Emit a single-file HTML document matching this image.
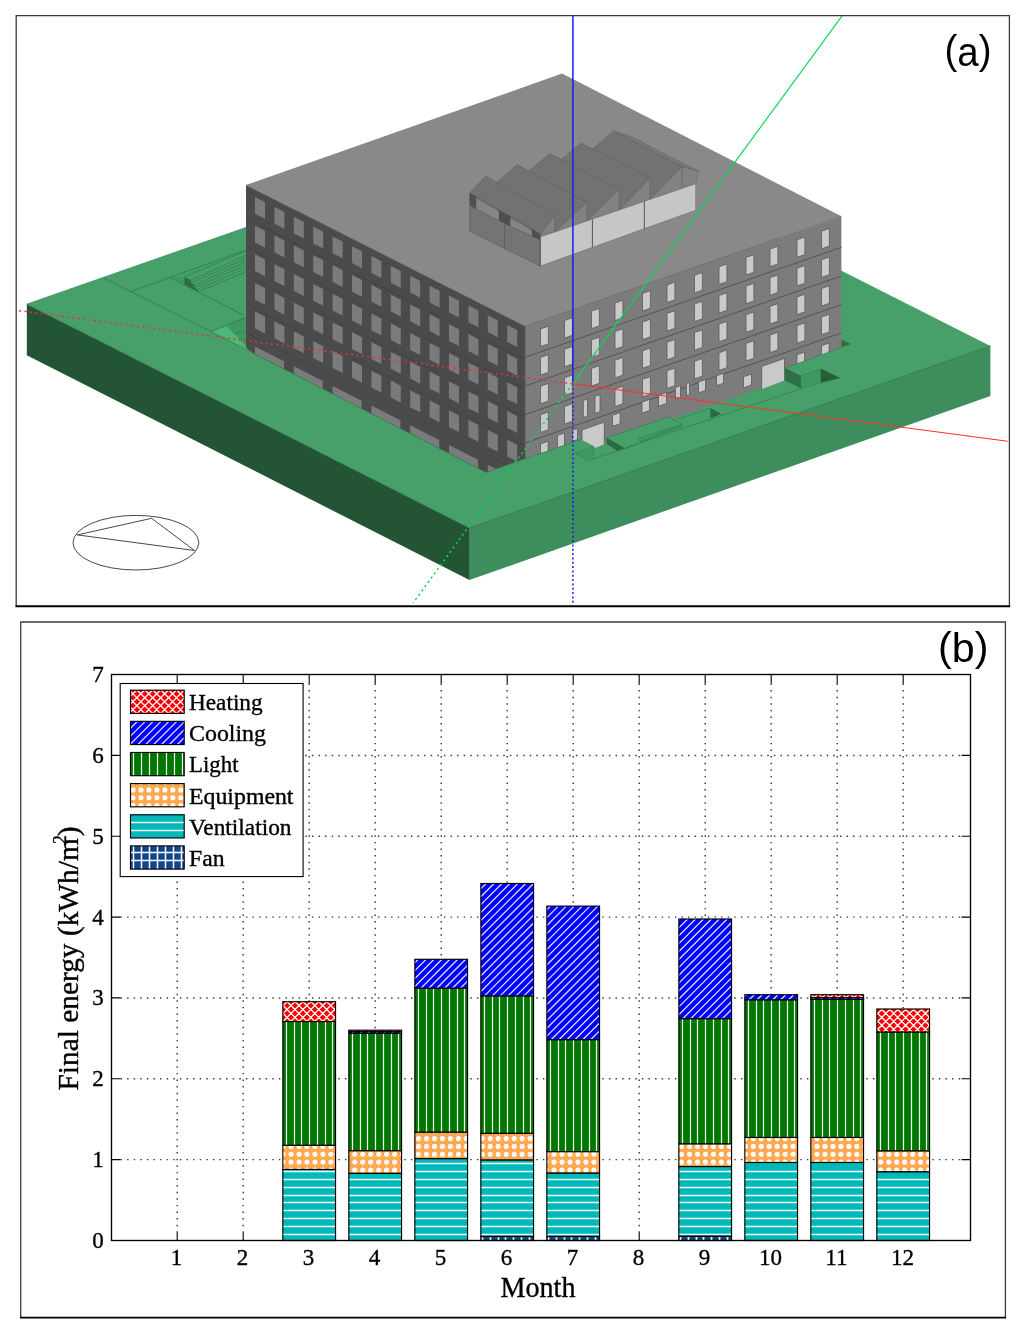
<!DOCTYPE html>
<html lang="en"><head><meta charset="utf-8"><title>Building model and monthly final energy</title>
<style>
html,body{margin:0;padding:0;background:#fff;}
body{width:1024px;height:1333px;overflow:hidden;font-family:"Liberation Serif",serif;}
svg{display:block;position:absolute;left:0;top:0;}
text{font-family:"Liberation Serif",serif;fill:#000;stroke:#000;stroke-width:0.35px;}
text.sans{font-family:"Liberation Sans",sans-serif;stroke:none;}
</style></head><body>
<svg width="1024" height="1333" viewBox="0 0 1024 1333">
<defs>
<clipPath id="cpA"><rect x="17" y="16" width="992" height="590"/></clipPath>
<clipPath id="cpL"><polygon points="246.0,185.0 525.0,326.2 525.0,458.8 486.2,472.5 253.0,353.4 246.0,347.5"/></clipPath>
</defs>
<g clip-path="url(#cpA)">
<polygon points="26.8,304.2 469.5,528.0 469.5,580.0 26.8,355.2" fill="#235434"/>
<polygon points="469.5,528.0 990.4,346.0 990.4,396.0 469.5,580.0" fill="#3d8e5c"/>
<polygon points="26.8,304.2 547.6,122.2 990.4,346.0 469.5,528.0" fill="#47a06a"/>
<line x1="26.8" y1="304.2" x2="469.5" y2="528.0" stroke="#2d6e45" stroke-width="0.7"/>
<line x1="469.5" y1="528.0" x2="990.4" y2="346.0" stroke="#357f52" stroke-width="0.7"/>
<line x1="26.8" y1="304.2" x2="246.0" y2="227.5" stroke="#3a8a59" stroke-width="0.8"/>
<polygon points="184.4,276.9 245.6,251.1 245.6,272.2 197.7,291.7" fill="#46a169"/>
<polygon points="168.8,276.9 184.4,276.9 184.4,284.0" fill="#3f9862"/>
<line x1="184.4" y1="276.9" x2="245.6" y2="251.1" stroke="#2f7a4c" stroke-width="0.7"/>
<line x1="190.9" y1="280.3" x2="245.6" y2="255.8" stroke="#2f7a4c" stroke-width="0.7"/>
<line x1="190.9" y1="283.1" x2="245.6" y2="258.9" stroke="#2f7a4c" stroke-width="0.7"/>
<line x1="194.5" y1="285.0" x2="245.6" y2="262.0" stroke="#2f7a4c" stroke-width="0.7"/>
<line x1="194.5" y1="287.5" x2="245.6" y2="265.2" stroke="#2f7a4c" stroke-width="0.7"/>
<line x1="197.7" y1="289.4" x2="245.6" y2="268.3" stroke="#2f7a4c" stroke-width="0.7"/>
<line x1="197.7" y1="291.7" x2="245.6" y2="272.2" stroke="#2f7a4c" stroke-width="0.7"/>
<polygon points="184.4,276.9 190.9,280.3 190.9,283.1 194.5,285.0 194.5,287.5 197.7,289.4 197.7,291.7 184.4,284.9" fill="#2b6e43"/>
<polygon points="226.5,326.0 245.6,317.5 245.6,347.3 253.0,353.4" fill="#3f9862"/>
<polygon points="211.0,331.5 226.5,326.0 253.0,353.4" fill="#4db878"/>
<line x1="235.2" y1="333.9" x2="245.6" y2="330.0" stroke="#2f7a4c" stroke-width="0.6"/>
<line x1="103.5" y1="278.0" x2="211.0" y2="331.5" stroke="#2f7a4c" stroke-width="0.8"/>
<line x1="131.0" y1="291.5" x2="245.6" y2="250.3" stroke="#2f7a4c" stroke-width="0.8"/>
<line x1="168.8" y1="276.9" x2="243.8" y2="315.2" stroke="#2f7a4c" stroke-width="0.8"/>
<line x1="211.0" y1="331.5" x2="245.6" y2="317.5" stroke="#2f7a4c" stroke-width="0.8"/>
<polygon points="246.0,185.0 525.0,326.2 525.0,458.8 486.2,472.5 253.0,353.4 246.0,347.5" fill="#4b4b4b"/>
<g clip-path="url(#cpL)">
<line x1="246.0" y1="218.1" x2="525.0" y2="359.8" stroke="#444444" stroke-width="1.0"/>
<line x1="246.0" y1="246.7" x2="525.0" y2="388.4" stroke="#444444" stroke-width="1.0"/>
<line x1="246.0" y1="275.3" x2="525.0" y2="417.0" stroke="#444444" stroke-width="1.0"/>
<line x1="246.0" y1="303.9" x2="525.0" y2="445.6" stroke="#444444" stroke-width="1.0"/>
<line x1="246.0" y1="332.5" x2="525.0" y2="474.2" stroke="#444444" stroke-width="1.0"/>
<path d="M255.0,197.0 l10,5.08 v16.8 l-10,-5.08 z M255.0,225.7 l10,5.08 v16.8 l-10,-5.08 z M255.0,254.3 l10,5.08 v16.8 l-10,-5.08 z M255.0,282.9 l10,5.08 v16.8 l-10,-5.08 z M255.0,311.6 l10,5.08 v16.8 l-10,-5.08 z M274.4,206.9 l10,5.08 v16.8 l-10,-5.08 z M274.4,235.5 l10,5.08 v16.8 l-10,-5.08 z M274.4,264.2 l10,5.08 v16.8 l-10,-5.08 z M274.4,292.8 l10,5.08 v16.8 l-10,-5.08 z M274.4,321.5 l10,5.08 v16.8 l-10,-5.08 z M293.8,216.7 l10,5.08 v16.8 l-10,-5.08 z M293.8,245.4 l10,5.08 v16.8 l-10,-5.08 z M293.8,274.0 l10,5.08 v16.8 l-10,-5.08 z M293.8,302.7 l10,5.08 v16.8 l-10,-5.08 z M293.8,331.3 l10,5.08 v16.8 l-10,-5.08 z M313.2,226.6 l10,5.08 v16.8 l-10,-5.08 z M313.2,255.2 l10,5.08 v16.8 l-10,-5.08 z M313.2,283.9 l10,5.08 v16.8 l-10,-5.08 z M313.2,312.5 l10,5.08 v16.8 l-10,-5.08 z M313.2,341.2 l10,5.08 v16.8 l-10,-5.08 z M332.6,236.4 l10,5.08 v16.8 l-10,-5.08 z M332.6,265.1 l10,5.08 v16.8 l-10,-5.08 z M332.6,293.7 l10,5.08 v16.8 l-10,-5.08 z M332.6,322.4 l10,5.08 v16.8 l-10,-5.08 z M332.6,351.0 l10,5.08 v16.8 l-10,-5.08 z M352.0,246.3 l10,5.08 v16.8 l-10,-5.08 z M352.0,274.9 l10,5.08 v16.8 l-10,-5.08 z M352.0,303.6 l10,5.08 v16.8 l-10,-5.08 z M352.0,332.2 l10,5.08 v16.8 l-10,-5.08 z M352.0,360.9 l10,5.08 v16.8 l-10,-5.08 z M371.4,256.1 l10,5.08 v16.8 l-10,-5.08 z M371.4,284.8 l10,5.08 v16.8 l-10,-5.08 z M371.4,313.4 l10,5.08 v16.8 l-10,-5.08 z M371.4,342.1 l10,5.08 v16.8 l-10,-5.08 z M371.4,370.7 l10,5.08 v16.8 l-10,-5.08 z M390.8,266.0 l10,5.08 v16.8 l-10,-5.08 z M390.8,294.6 l10,5.08 v16.8 l-10,-5.08 z M390.8,323.3 l10,5.08 v16.8 l-10,-5.08 z M390.8,351.9 l10,5.08 v16.8 l-10,-5.08 z M390.8,380.6 l10,5.08 v16.8 l-10,-5.08 z M410.2,275.8 l10,5.08 v16.8 l-10,-5.08 z M410.2,304.5 l10,5.08 v16.8 l-10,-5.08 z M410.2,333.1 l10,5.08 v16.8 l-10,-5.08 z M410.2,361.8 l10,5.08 v16.8 l-10,-5.08 z M410.2,390.4 l10,5.08 v16.8 l-10,-5.08 z M429.6,285.7 l10,5.08 v16.8 l-10,-5.08 z M429.6,314.3 l10,5.08 v16.8 l-10,-5.08 z M429.6,343.0 l10,5.08 v16.8 l-10,-5.08 z M429.6,371.6 l10,5.08 v16.8 l-10,-5.08 z M429.6,400.3 l10,5.08 v16.8 l-10,-5.08 z M449.0,295.6 l10,5.08 v16.8 l-10,-5.08 z M449.0,324.2 l10,5.08 v16.8 l-10,-5.08 z M449.0,352.9 l10,5.08 v16.8 l-10,-5.08 z M449.0,381.5 l10,5.08 v16.8 l-10,-5.08 z M449.0,410.2 l10,5.08 v16.8 l-10,-5.08 z M468.4,305.4 l10,5.08 v16.8 l-10,-5.08 z M468.4,334.1 l10,5.08 v16.8 l-10,-5.08 z M468.4,362.7 l10,5.08 v16.8 l-10,-5.08 z M468.4,391.4 l10,5.08 v16.8 l-10,-5.08 z M468.4,420.0 l10,5.08 v16.8 l-10,-5.08 z M487.8,315.3 l10,5.08 v16.8 l-10,-5.08 z M487.8,343.9 l10,5.08 v16.8 l-10,-5.08 z M487.8,372.6 l10,5.08 v16.8 l-10,-5.08 z M487.8,401.2 l10,5.08 v16.8 l-10,-5.08 z M487.8,429.9 l10,5.08 v16.8 l-10,-5.08 z M507.2,325.1 l10,5.08 v16.8 l-10,-5.08 z M507.2,353.8 l10,5.08 v16.8 l-10,-5.08 z M507.2,382.4 l10,5.08 v16.8 l-10,-5.08 z M507.2,411.1 l10,5.08 v16.8 l-10,-5.08 z M507.2,439.7 l10,5.08 v16.8 l-10,-5.08 z M255.0,346.5 l29,14.73 v26 l-29,-14.73 z M293.8,366.2 l29,14.73 v26 l-29,-14.73 z M332.6,385.9 l29,14.73 v26 l-29,-14.73 z M371.4,405.6 l29,14.73 v26 l-29,-14.73 z M410.2,425.3 l29,14.73 v26 l-29,-14.73 z M449.0,445.1 l29,14.73 v26 l-29,-14.73 z M487.8,464.8 l29,14.73 v26 l-29,-14.73 z" fill="#7b7b7b"/>
</g>
<polygon points="525.0,326.2 841.4,216.2 841.4,360.0 525.0,470.0" fill="#7c7c7c"/>
<line x1="525.0" y1="357.3" x2="841.4" y2="247.3" stroke="#4a4a4a" stroke-width="0.8"/>
<line x1="525.0" y1="386.0" x2="841.4" y2="276.0" stroke="#4a4a4a" stroke-width="0.8"/>
<line x1="525.0" y1="414.7" x2="841.4" y2="304.7" stroke="#4a4a4a" stroke-width="0.8"/>
<line x1="525.0" y1="443.0" x2="841.4" y2="333.0" stroke="#4a4a4a" stroke-width="0.8"/>
<path d="M540.5,328.9 l7.9,-2.76 v17.6 l-7.9,2.76 z M540.5,357.5 l7.9,-2.76 v17.6 l-7.9,2.76 z M540.5,386.2 l7.9,-2.76 v17.6 l-7.9,2.76 z M540.5,414.8 l7.9,-2.76 v17.6 l-7.9,2.76 z M564.5,320.5 l7.9,-2.76 v17.6 l-7.9,2.76 z M564.5,349.2 l7.9,-2.76 v17.6 l-7.9,2.76 z M564.5,377.8 l7.9,-2.76 v17.6 l-7.9,2.76 z M564.5,406.5 l7.9,-2.76 v17.6 l-7.9,2.76 z M591.5,311.1 l7.9,-2.76 v17.6 l-7.9,2.76 z M591.5,339.8 l7.9,-2.76 v17.6 l-7.9,2.76 z M591.5,368.4 l7.9,-2.76 v17.6 l-7.9,2.76 z M615.0,303.0 l7.9,-2.76 v17.6 l-7.9,2.76 z M615.0,331.6 l7.9,-2.76 v17.6 l-7.9,2.76 z M615.0,360.3 l7.9,-2.76 v17.6 l-7.9,2.76 z M615.0,388.9 l7.9,-2.76 v17.6 l-7.9,2.76 z M642.5,293.4 l7.9,-2.76 v17.6 l-7.9,2.76 z M642.5,322.0 l7.9,-2.76 v17.6 l-7.9,2.76 z M642.5,350.7 l7.9,-2.76 v17.6 l-7.9,2.76 z M642.5,379.3 l7.9,-2.76 v17.6 l-7.9,2.76 z M667.0,284.9 l7.9,-2.76 v17.6 l-7.9,2.76 z M667.0,313.5 l7.9,-2.76 v17.6 l-7.9,2.76 z M667.0,342.2 l7.9,-2.76 v17.6 l-7.9,2.76 z M667.0,370.8 l7.9,-2.76 v17.6 l-7.9,2.76 z M694.5,275.3 l7.9,-2.76 v17.6 l-7.9,2.76 z M694.5,304.0 l7.9,-2.76 v17.6 l-7.9,2.76 z M694.5,332.6 l7.9,-2.76 v17.6 l-7.9,2.76 z M694.5,361.3 l7.9,-2.76 v17.6 l-7.9,2.76 z M719.0,266.8 l7.9,-2.76 v17.6 l-7.9,2.76 z M719.0,295.5 l7.9,-2.76 v17.6 l-7.9,2.76 z M719.0,324.1 l7.9,-2.76 v17.6 l-7.9,2.76 z M719.0,352.8 l7.9,-2.76 v17.6 l-7.9,2.76 z M746.0,257.4 l7.9,-2.76 v17.6 l-7.9,2.76 z M746.0,286.1 l7.9,-2.76 v17.6 l-7.9,2.76 z M746.0,314.7 l7.9,-2.76 v17.6 l-7.9,2.76 z M746.0,343.4 l7.9,-2.76 v17.6 l-7.9,2.76 z M770.0,249.1 l7.9,-2.76 v17.6 l-7.9,2.76 z M770.0,277.7 l7.9,-2.76 v17.6 l-7.9,2.76 z M770.0,306.4 l7.9,-2.76 v17.6 l-7.9,2.76 z M770.0,335.0 l7.9,-2.76 v17.6 l-7.9,2.76 z M797.0,239.7 l7.9,-2.76 v17.6 l-7.9,2.76 z M797.0,268.3 l7.9,-2.76 v17.6 l-7.9,2.76 z M797.0,297.0 l7.9,-2.76 v17.6 l-7.9,2.76 z M797.0,325.6 l7.9,-2.76 v17.6 l-7.9,2.76 z M821.5,231.2 l7.9,-2.76 v17.6 l-7.9,2.76 z M821.5,259.8 l7.9,-2.76 v17.6 l-7.9,2.76 z M821.5,288.5 l7.9,-2.76 v17.6 l-7.9,2.76 z M821.5,317.1 l7.9,-2.76 v17.6 l-7.9,2.76 z M540.5,443.9 l7.6,-2.65 v16.0 l-7.6,2.65 z M557.5,435.5 l7.0,-2.44 v12.5 l-7.0,2.44 z M572.5,430.2 l5.0,-1.74 v11.0 l-5.0,1.74 z M582.0,429.9 l22.3,-7.78 v26.0 l-22.3,7.78 z M612.5,415.3 l7.6,-2.65 v11.0 l-7.6,2.65 z M642.0,402.1 l7.6,-2.65 v11.0 l-7.6,2.65 z M583.3,400.5 l4.2,-1.47 v17.0 l-4.2,1.47 z M595.0,396.4 l5.0,-1.74 v17.0 l-5.0,1.74 z M658.5,395.3 l8.0,-2.79 v11.0 l-8.0,2.79 z M675.5,387.4 l5.0,-1.74 v12.0 l-5.0,1.74 z M686.5,383.6 l3.0,-1.05 v12.0 l-3.0,1.05 z M698.5,381.9 l7.0,-2.44 v11.0 l-7.0,2.44 z M716.5,375.7 l7.0,-2.44 v10.0 l-7.0,2.44 z M743.5,376.8 l8.0,-2.79 v11.0 l-8.0,2.79 z M761.7,366.4 l22.8,-7.96 v24.0 l-22.8,7.96 z M797.0,354.7 l7.6,-2.65 v13.0 l-7.6,2.65 z M821.5,345.7 l7.6,-2.65 v12.0 l-7.6,2.65 z" fill="#c9c9c9" stroke="#5a5a5a" stroke-width="0.8"/>
<polygon points="246.0,185.0 562.0,73.6 841.4,216.2 525.0,326.2" fill="#898989"/>
<line x1="246.0" y1="185.0" x2="525.0" y2="326.2" stroke="#6a6a6a" stroke-width="0.6"/>
<line x1="525.0" y1="326.2" x2="841.4" y2="216.2" stroke="#6a6a6a" stroke-width="0.6"/>
<line x1="525.0" y1="326.2" x2="525.0" y2="459.0" stroke="#5a5a5a" stroke-width="0.7"/>
<polygon points="613.5,131.1 629.8,135.8 698.4,171.2 682.0,166.7" fill="#787878" stroke="#606060" stroke-width="0.5"/>
<polygon points="682.0,166.7 698.4,171.2 695.7,184.3 682.0,189.1" fill="#828282" stroke="#606060" stroke-width="0.5"/>
<polygon points="581.0,159.0 613.5,131.1 682.0,166.7 649.8,199.6" fill="#727272" stroke="#5e5e5e" stroke-width="0.5"/>
<polygon points="649.8,199.6 682.0,166.7 682.0,188.6" fill="#828282" stroke="#5e5e5e" stroke-width="0.5"/>
<polygon points="549.7,169.6 581.0,143.0 649.8,178.0 619.0,210.2" fill="#727272" stroke="#5e5e5e" stroke-width="0.5"/>
<polygon points="619.0,210.2 649.8,178.0 649.8,199.6" fill="#828282" stroke="#5e5e5e" stroke-width="0.5"/>
<polygon points="517.2,180.7 549.7,153.5 619.0,189.1 586.8,221.3" fill="#727272" stroke="#5e5e5e" stroke-width="0.5"/>
<polygon points="586.8,221.3 619.0,189.1 619.0,210.2" fill="#828282" stroke="#5e5e5e" stroke-width="0.5"/>
<polygon points="485.6,192.3 517.2,164.6 586.8,202.3 554.7,232.3" fill="#727272" stroke="#5e5e5e" stroke-width="0.5"/>
<polygon points="554.7,232.3 586.8,202.3 586.8,221.3" fill="#828282" stroke="#5e5e5e" stroke-width="0.5"/>
<polygon points="469.8,193.0 485.6,175.9 554.7,215.5 540.2,234.4" fill="#727272" stroke="#5e5e5e" stroke-width="0.5"/>
<polygon points="540.2,234.4 554.7,215.5 554.7,232.3" fill="#828282" stroke="#5e5e5e" stroke-width="0.5"/>
<polygon points="469.8,193.0 540.2,234.4 540.2,266.1 469.8,231.3" fill="#747474" stroke="#555" stroke-width="0.5"/>
<polygon points="469.8,193.0 476.4,196.7 476.4,209.4 469.8,205.4" fill="#4f4f4f"/>
<polygon points="498.8,209.7 510.6,216.5 510.6,226.5 498.8,220.7" fill="#4f4f4f"/>
<polygon points="531.7,228.6 540.2,233.9 540.2,240.2 531.7,236.0" fill="#4f4f4f"/>
<polygon points="476.4,198.6 498.8,211.5 498.8,220.7 476.4,209.4" fill="#858585"/>
<polygon points="510.6,218.4 531.7,230.5 531.7,236.0 510.6,226.5" fill="#858585"/>
<line x1="476.4" y1="209.4" x2="498.8" y2="220.7" stroke="#5a5a5a" stroke-width="0.6"/>
<line x1="510.6" y1="226.5" x2="531.7" y2="236.0" stroke="#5a5a5a" stroke-width="0.6"/>
<line x1="504.6" y1="220.7" x2="504.6" y2="248.9" stroke="#555" stroke-width="0.7"/>
<polygon points="540.2,237.1 695.7,183.8 695.7,210.2 540.2,266.1" fill="#c6c6c6" stroke="#666" stroke-width="0.5"/>
<line x1="592.4" y1="219.4" x2="592.4" y2="247.6" stroke="#555" stroke-width="1.0"/>
<line x1="644.3" y1="201.5" x2="644.3" y2="229.2" stroke="#555" stroke-width="1.0"/>
<line x1="540.2" y1="234.4" x2="540.2" y2="266.1" stroke="#555" stroke-width="1.0"/>
<polygon points="211.0,331.5 253.0,353.4 486.2,472.5 469.5,527.0 160.0,370.5" fill="#47a06a"/>
<polygon points="486.2,472.5 525.0,458.8 550.0,450.0 581.2,439.5 593.5,446.1 594.9,448.1 604.2,444.2 606.6,443.7 606.6,437.8 668.0,416.9 673.0,419.6 676.4,419.2 710.4,408.1 761.7,389.2 784.5,380.4 785.1,368.1 841.4,347.6 852.0,343.5 985.0,347.0 470.5,527.0" fill="#47a06a"/>
<line x1="211.0" y1="331.5" x2="486.2" y2="472.5" stroke="#2f7a4c" stroke-width="0.7"/>
<line x1="486.2" y1="472.5" x2="581.2" y2="439.5" stroke="#2f7a4c" stroke-width="0.6"/>
<polygon points="574.4,453.0 593.5,446.6 593.5,458.8 589.1,461.3" fill="#3f9862" stroke="#2f7a4c" stroke-width="0.5"/>
<polygon points="606.6,437.8 625.2,448.6 617.4,451.0 606.6,443.7" fill="#2a6a41"/>
<polygon points="637.7,438.4 680.6,424.7 681.6,427.0 640.6,441.3" fill="#3f9862" stroke="#2f7a4c" stroke-width="0.5"/>
<polygon points="710.4,408.1 721.5,413.9 710.4,418.0" fill="#2a6a41"/>
<polygon points="785.1,368.1 800.9,375.7 800.9,388.6 785.1,380.4" fill="#2c7044"/>
<polygon points="800.9,375.7 820.9,369.3 820.9,382.7 800.9,388.6" fill="#3f9862" stroke="#2f7a4c" stroke-width="0.5"/>
<polygon points="820.9,368.7 840.2,378.0 820.9,382.7" fill="#256038"/>
<polygon points="841.4,339.4 850.7,344.1 841.4,347.6" fill="#2c7044"/>
<line x1="593.5" y1="458.8" x2="800.9" y2="388.6" stroke="#2f7a4c" stroke-width="0.7"/>
<line x1="820.9" y1="382.7" x2="840.2" y2="378.0" stroke="#2f7a4c" stroke-width="0.6"/>
<line x1="606.6" y1="437.8" x2="668.0" y2="416.9" stroke="#2f7a4c" stroke-width="0.6"/>
<line x1="668.0" y1="416.9" x2="682.6" y2="424.7" stroke="#2f7a4c" stroke-width="0.6"/>
<line x1="625.2" y1="448.6" x2="682.6" y2="424.7" stroke="#2f7a4c" stroke-width="0.6"/>
<line x1="676.4" y1="419.2" x2="710.4" y2="408.1" stroke="#2f7a4c" stroke-width="0.6"/>
<line x1="785.1" y1="368.1" x2="841.4" y2="347.6" stroke="#2f7a4c" stroke-width="0.6"/>
<line x1="469.5" y1="528.0" x2="990.4" y2="346.0" stroke="#357f52" stroke-width="0.8"/>
<line x1="469.5" y1="528.0" x2="469.5" y2="579.0" stroke="#2d6e45" stroke-width="0.6"/>
<line x1="572.9" y1="383.8" x2="572.9" y2="16.0" stroke="#1a1af0" stroke-width="1.5"/>
<line x1="572.9" y1="383.8" x2="572.9" y2="603.0" stroke="#1a1af0" stroke-width="1.5" stroke-dasharray="2 2.34"/>
<line x1="572.6" y1="383.8" x2="842.0" y2="16.0" stroke="#0cd45a" stroke-width="1.25"/>
<line x1="572.6" y1="383.8" x2="413.1" y2="603.0" stroke="#0cd45a" stroke-width="1.5" stroke-dasharray="2.2 3.1"/>
<line x1="572.6" y1="383.8" x2="1007.7" y2="441.2" stroke="#ff3030" stroke-width="1.05"/>
<line x1="572.6" y1="383.8" x2="18.0" y2="310.5" stroke="#f03030" stroke-width="1.5" stroke-dasharray="2.0 3.4"/>
<ellipse cx="135.9" cy="542.7" rx="62.9" ry="27.3" fill="none" stroke="#333" stroke-width="0.9"/>
<polygon points="77.3,534.9 151.6,518.3 194.5,550.5" fill="none" stroke="#333" stroke-width="0.9"/>
</g>
<path d="M16.2,606.2 L16.2,15.6 L1009.4,15.6 L1009.4,606.2" fill="none" stroke="#3c3c3c" stroke-width="1.3"/>
<path d="M15.5,606.2 L1010.1,606.2" fill="none" stroke="#000" stroke-width="1.9"/>
<text class="sans" x="968" y="65.9" font-size="40" text-anchor="middle" textLength="47" lengthAdjust="spacingAndGlyphs"><tspan dy="-1.8">(</tspan><tspan dy="1.8">a</tspan><tspan dy="-1.8">)</tspan></text>
<path d="M20.7,1317.6 L20.7,622 L1005.4,622 L1005.4,1317.6" fill="none" stroke="#3c3c3c" stroke-width="1.3"/>
<path d="M20,1317.6 L1006.1,1317.6" fill="none" stroke="#000" stroke-width="1.9"/>
<path d="M177.2,683.5 L177.2,1231.5 M243.2,683.5 L243.2,1231.5 M309.2,683.5 L309.2,1231.5 M375.2,683.5 L375.2,1231.5 M441.2,683.5 L441.2,1231.5 M507.2,683.5 L507.2,1231.5 M573.2,683.5 L573.2,1231.5 M639.2,683.5 L639.2,1231.5 M705.2,683.5 L705.2,1231.5 M771.2,683.5 L771.2,1231.5 M837.2,683.5 L837.2,1231.5 M903.2,683.5 L903.2,1231.5 M120.5,1159.6 L961.5,1159.6 M120.5,1078.8 L961.5,1078.8 M120.5,997.9 L961.5,997.9 M120.5,917.1 L961.5,917.1 M120.5,836.2 L961.5,836.2 M120.5,755.4 L961.5,755.4" fill="none" stroke="#3a3a3a" stroke-width="1.45" stroke-dasharray="1.45 5.15"/>
<path d="M177.2,674.5 v9.0 M177.2,1240.5 v-9.0 M243.2,674.5 v9.0 M243.2,1240.5 v-9.0 M309.2,674.5 v9.0 M309.2,1240.5 v-9.0 M375.2,674.5 v9.0 M375.2,1240.5 v-9.0 M441.2,674.5 v9.0 M441.2,1240.5 v-9.0 M507.2,674.5 v9.0 M507.2,1240.5 v-9.0 M573.2,674.5 v9.0 M573.2,1240.5 v-9.0 M639.2,674.5 v9.0 M639.2,1240.5 v-9.0 M705.2,674.5 v9.0 M705.2,1240.5 v-9.0 M771.2,674.5 v9.0 M771.2,1240.5 v-9.0 M837.2,674.5 v9.0 M837.2,1240.5 v-9.0 M903.2,674.5 v9.0 M903.2,1240.5 v-9.0 M111.5,1159.6 h9.0 M970.5,1159.6 h-9.0 M111.5,1078.8 h9.0 M970.5,1078.8 h-9.0 M111.5,997.9 h9.0 M970.5,997.9 h-9.0 M111.5,917.1 h9.0 M970.5,917.1 h-9.0 M111.5,836.2 h9.0 M970.5,836.2 h-9.0 M111.5,755.4 h9.0 M970.5,755.4 h-9.0" fill="none" stroke="#000" stroke-width="1.1"/>
<rect x="282.85" y="1001.70" width="52.70" height="19.90" fill="#ff0000"/>
<path d="M282.85,1005.72 L286.87,1001.70 M282.85,1013.65 L294.80,1001.70 M282.85,1021.58 L302.73,1001.70 M290.76,1021.60 L310.66,1001.70 M298.69,1021.60 L318.59,1001.70 M306.62,1021.60 L326.52,1001.70 M314.55,1021.60 L334.45,1001.70 M322.48,1021.60 L335.55,1008.53 M330.41,1021.60 L335.55,1016.46 M282.85,1021.14 L283.31,1021.60 M282.85,1013.21 L291.24,1021.60 M282.85,1005.28 L299.17,1021.60 M287.20,1001.70 L307.10,1021.60 M295.13,1001.70 L315.03,1021.60 M303.06,1001.70 L322.96,1021.60 M310.99,1001.70 L330.89,1021.60 M318.92,1001.70 L335.55,1018.33 M326.85,1001.70 L335.55,1010.40 M334.78,1001.70 L335.55,1002.47" fill="none" stroke="#fff" stroke-width="1.3"/>
<rect x="282.85" y="1001.70" width="52.70" height="19.90" fill="none" stroke="#000" stroke-width="1.15"/>
<rect x="282.85" y="1021.60" width="52.70" height="123.80" fill="#007800"/>
<path d="M286.5,1021.60 V1145.40 M294.5,1021.60 V1145.40 M301.5,1021.60 V1145.40 M309.5,1021.60 V1145.40 M317.5,1021.60 V1145.40 M325.5,1021.60 V1145.40 M332.5,1021.60 V1145.40" fill="none" stroke="#fff" stroke-width="1.2"/>
<rect x="282.85" y="1021.60" width="52.70" height="123.80" fill="none" stroke="#000" stroke-width="1.15"/>
<rect x="282.85" y="1145.40" width="52.70" height="24.10" fill="#ffa84f"/>
<clipPath id="c116"><rect x="282.85" y="1145.40" width="52.70" height="24.10"/></clipPath>
<g clip-path="url(#c116)" fill="#fff"><circle cx="283.0" cy="1146.5" r="2.55"/><circle cx="283.0" cy="1154.3" r="2.55"/><circle cx="283.0" cy="1162.1" r="2.55"/><circle cx="283.0" cy="1170.0" r="2.55"/><circle cx="291.0" cy="1146.5" r="2.55"/><circle cx="291.0" cy="1154.3" r="2.55"/><circle cx="291.0" cy="1162.1" r="2.55"/><circle cx="291.0" cy="1170.0" r="2.55"/><circle cx="299.0" cy="1146.5" r="2.55"/><circle cx="299.0" cy="1154.3" r="2.55"/><circle cx="299.0" cy="1162.1" r="2.55"/><circle cx="299.0" cy="1170.0" r="2.55"/><circle cx="306.9" cy="1146.5" r="2.55"/><circle cx="306.9" cy="1154.3" r="2.55"/><circle cx="306.9" cy="1162.1" r="2.55"/><circle cx="306.9" cy="1170.0" r="2.55"/><circle cx="314.9" cy="1146.5" r="2.55"/><circle cx="314.9" cy="1154.3" r="2.55"/><circle cx="314.9" cy="1162.1" r="2.55"/><circle cx="314.9" cy="1170.0" r="2.55"/><circle cx="322.9" cy="1146.5" r="2.55"/><circle cx="322.9" cy="1154.3" r="2.55"/><circle cx="322.9" cy="1162.1" r="2.55"/><circle cx="322.9" cy="1170.0" r="2.55"/><circle cx="330.9" cy="1146.5" r="2.55"/><circle cx="330.9" cy="1154.3" r="2.55"/><circle cx="330.9" cy="1162.1" r="2.55"/><circle cx="330.9" cy="1170.0" r="2.55"/></g>
<rect x="282.85" y="1145.40" width="52.70" height="24.10" fill="none" stroke="#000" stroke-width="1.15"/>
<rect x="282.85" y="1169.50" width="52.70" height="71.00" fill="#00b9b9"/>
<path d="M282.85,1171.5 H335.55 M282.85,1179.5 H335.55 M282.85,1187.5 H335.55 M282.85,1195.5 H335.55 M282.85,1202.5 H335.55 M282.85,1210.5 H335.55 M282.85,1218.5 H335.55 M282.85,1226.5 H335.55 M282.85,1234.5 H335.55" fill="none" stroke="#fff" stroke-width="1.4"/>
<rect x="282.85" y="1169.50" width="52.70" height="71.00" fill="none" stroke="#000" stroke-width="1.15"/>
<rect x="348.85" y="1030.20" width="52.70" height="1.60" fill="#ff0000"/>
<path d="M351.93,1031.80 L353.53,1030.20 M359.86,1031.80 L361.46,1030.20 M367.79,1031.80 L369.39,1030.20 M375.72,1031.80 L377.32,1030.20 M383.65,1031.80 L385.25,1030.20 M391.58,1031.80 L393.18,1030.20 M399.51,1031.80 L401.11,1030.20 M348.85,1031.63 L349.02,1031.80 M355.35,1030.20 L356.95,1031.80 M363.28,1030.20 L364.88,1031.80 M371.21,1030.20 L372.81,1031.80 M379.14,1030.20 L380.74,1031.80 M387.07,1030.20 L388.67,1031.80 M395.00,1030.20 L396.60,1031.80" fill="none" stroke="#fff" stroke-width="1.3"/>
<rect x="348.85" y="1030.20" width="52.70" height="1.60" fill="none" stroke="#000" stroke-width="1.15"/>
<rect x="348.85" y="1031.80" width="52.70" height="1.60" fill="#0000ff"/>
<path d="M352.10,1033.40 L353.70,1031.80 M360.00,1033.40 L361.60,1031.80 M367.90,1033.40 L369.50,1031.80 M375.80,1033.40 L377.40,1031.80 M383.70,1033.40 L385.30,1031.80 M391.60,1033.40 L393.20,1031.80 M399.50,1033.40 L401.10,1031.80" fill="none" stroke="#dedeff" stroke-width="1.3"/>
<rect x="348.85" y="1031.80" width="52.70" height="1.60" fill="none" stroke="#000" stroke-width="1.15"/>
<rect x="348.85" y="1033.40" width="52.70" height="117.40" fill="#007800"/>
<path d="M352.5,1033.40 V1150.80 M360.5,1033.40 V1150.80 M367.5,1033.40 V1150.80 M375.5,1033.40 V1150.80 M383.5,1033.40 V1150.80 M391.5,1033.40 V1150.80 M398.5,1033.40 V1150.80" fill="none" stroke="#fff" stroke-width="1.2"/>
<rect x="348.85" y="1033.40" width="52.70" height="117.40" fill="none" stroke="#000" stroke-width="1.15"/>
<rect x="348.85" y="1150.80" width="52.70" height="22.60" fill="#ffa84f"/>
<clipPath id="c132"><rect x="348.85" y="1150.80" width="52.70" height="22.60"/></clipPath>
<g clip-path="url(#c132)" fill="#fff"><circle cx="346.8" cy="1154.3" r="2.55"/><circle cx="346.8" cy="1162.1" r="2.55"/><circle cx="346.8" cy="1170.0" r="2.55"/><circle cx="354.8" cy="1154.3" r="2.55"/><circle cx="354.8" cy="1162.1" r="2.55"/><circle cx="354.8" cy="1170.0" r="2.55"/><circle cx="362.7" cy="1154.3" r="2.55"/><circle cx="362.7" cy="1162.1" r="2.55"/><circle cx="362.7" cy="1170.0" r="2.55"/><circle cx="370.7" cy="1154.3" r="2.55"/><circle cx="370.7" cy="1162.1" r="2.55"/><circle cx="370.7" cy="1170.0" r="2.55"/><circle cx="378.7" cy="1154.3" r="2.55"/><circle cx="378.7" cy="1162.1" r="2.55"/><circle cx="378.7" cy="1170.0" r="2.55"/><circle cx="386.6" cy="1154.3" r="2.55"/><circle cx="386.6" cy="1162.1" r="2.55"/><circle cx="386.6" cy="1170.0" r="2.55"/><circle cx="394.6" cy="1154.3" r="2.55"/><circle cx="394.6" cy="1162.1" r="2.55"/><circle cx="394.6" cy="1170.0" r="2.55"/><circle cx="402.6" cy="1154.3" r="2.55"/><circle cx="402.6" cy="1162.1" r="2.55"/><circle cx="402.6" cy="1170.0" r="2.55"/></g>
<rect x="348.85" y="1150.80" width="52.70" height="22.60" fill="none" stroke="#000" stroke-width="1.15"/>
<rect x="348.85" y="1173.40" width="52.70" height="67.10" fill="#00b9b9"/>
<path d="M348.85,1179.5 H401.55 M348.85,1187.5 H401.55 M348.85,1195.5 H401.55 M348.85,1202.5 H401.55 M348.85,1210.5 H401.55 M348.85,1218.5 H401.55 M348.85,1226.5 H401.55 M348.85,1234.5 H401.55" fill="none" stroke="#fff" stroke-width="1.4"/>
<rect x="348.85" y="1173.40" width="52.70" height="67.10" fill="none" stroke="#000" stroke-width="1.15"/>
<rect x="414.85" y="959.30" width="52.70" height="29.00" fill="#0000ff"/>
<path d="M414.85,962.75 L418.30,959.30 M414.85,970.65 L426.20,959.30 M414.85,978.55 L434.10,959.30 M414.85,986.45 L442.00,959.30 M420.90,988.30 L449.90,959.30 M428.80,988.30 L457.80,959.30 M436.70,988.30 L465.70,959.30 M444.60,988.30 L467.55,965.35 M452.50,988.30 L467.55,973.25 M460.40,988.30 L467.55,981.15" fill="none" stroke="#dedeff" stroke-width="1.3"/>
<rect x="414.85" y="959.30" width="52.70" height="29.00" fill="none" stroke="#000" stroke-width="1.15"/>
<rect x="414.85" y="988.30" width="52.70" height="144.00" fill="#007800"/>
<path d="M418.5,988.30 V1132.30 M426.5,988.30 V1132.30 M433.5,988.30 V1132.30 M441.5,988.30 V1132.30 M449.5,988.30 V1132.30 M457.5,988.30 V1132.30 M464.5,988.30 V1132.30" fill="none" stroke="#fff" stroke-width="1.2"/>
<rect x="414.85" y="988.30" width="52.70" height="144.00" fill="none" stroke="#000" stroke-width="1.15"/>
<rect x="414.85" y="1132.30" width="52.70" height="26.40" fill="#ffa84f"/>
<clipPath id="c145"><rect x="414.85" y="1132.30" width="52.70" height="26.40"/></clipPath>
<g clip-path="url(#c145)" fill="#fff"><circle cx="418.5" cy="1130.8" r="2.55"/><circle cx="418.5" cy="1138.6" r="2.55"/><circle cx="418.5" cy="1146.4" r="2.55"/><circle cx="418.5" cy="1154.3" r="2.55"/><circle cx="426.5" cy="1130.8" r="2.55"/><circle cx="426.5" cy="1138.6" r="2.55"/><circle cx="426.5" cy="1146.4" r="2.55"/><circle cx="426.5" cy="1154.3" r="2.55"/><circle cx="434.5" cy="1130.8" r="2.55"/><circle cx="434.5" cy="1138.6" r="2.55"/><circle cx="434.5" cy="1146.4" r="2.55"/><circle cx="434.5" cy="1154.3" r="2.55"/><circle cx="442.4" cy="1130.8" r="2.55"/><circle cx="442.4" cy="1138.6" r="2.55"/><circle cx="442.4" cy="1146.4" r="2.55"/><circle cx="442.4" cy="1154.3" r="2.55"/><circle cx="450.4" cy="1130.8" r="2.55"/><circle cx="450.4" cy="1138.6" r="2.55"/><circle cx="450.4" cy="1146.4" r="2.55"/><circle cx="450.4" cy="1154.3" r="2.55"/><circle cx="458.4" cy="1130.8" r="2.55"/><circle cx="458.4" cy="1138.6" r="2.55"/><circle cx="458.4" cy="1146.4" r="2.55"/><circle cx="458.4" cy="1154.3" r="2.55"/><circle cx="466.3" cy="1130.8" r="2.55"/><circle cx="466.3" cy="1138.6" r="2.55"/><circle cx="466.3" cy="1146.4" r="2.55"/><circle cx="466.3" cy="1154.3" r="2.55"/></g>
<rect x="414.85" y="1132.30" width="52.70" height="26.40" fill="none" stroke="#000" stroke-width="1.15"/>
<rect x="414.85" y="1158.70" width="52.70" height="81.80" fill="#00b9b9"/>
<path d="M414.85,1163.5 H467.55 M414.85,1171.5 H467.55 M414.85,1179.5 H467.55 M414.85,1187.5 H467.55 M414.85,1195.5 H467.55 M414.85,1202.5 H467.55 M414.85,1210.5 H467.55 M414.85,1218.5 H467.55 M414.85,1226.5 H467.55 M414.85,1234.5 H467.55" fill="none" stroke="#fff" stroke-width="1.4"/>
<rect x="414.85" y="1158.70" width="52.70" height="81.80" fill="none" stroke="#000" stroke-width="1.15"/>
<rect x="480.85" y="883.50" width="52.70" height="112.60" fill="#0000ff"/>
<path d="M480.85,888.85 L486.20,883.50 M480.85,896.75 L494.10,883.50 M480.85,904.65 L502.00,883.50 M480.85,912.55 L509.90,883.50 M480.85,920.45 L517.80,883.50 M480.85,928.35 L525.70,883.50 M480.85,936.25 L533.55,883.55 M480.85,944.15 L533.55,891.45 M480.85,952.05 L533.55,899.35 M480.85,959.95 L533.55,907.25 M480.85,967.85 L533.55,915.15 M480.85,975.75 L533.55,923.05 M480.85,983.65 L533.55,930.95 M480.85,991.55 L533.55,938.85 M484.20,996.10 L533.55,946.75 M492.10,996.10 L533.55,954.65 M500.00,996.10 L533.55,962.55 M507.90,996.10 L533.55,970.45 M515.80,996.10 L533.55,978.35 M523.70,996.10 L533.55,986.25 M531.60,996.10 L533.55,994.15" fill="none" stroke="#dedeff" stroke-width="1.3"/>
<rect x="480.85" y="883.50" width="52.70" height="112.60" fill="none" stroke="#000" stroke-width="1.15"/>
<rect x="480.85" y="996.10" width="52.70" height="137.30" fill="#007800"/>
<path d="M484.5,996.10 V1133.40 M492.5,996.10 V1133.40 M499.5,996.10 V1133.40 M507.5,996.10 V1133.40 M515.5,996.10 V1133.40 M523.5,996.10 V1133.40 M530.5,996.10 V1133.40" fill="none" stroke="#fff" stroke-width="1.2"/>
<rect x="480.85" y="996.10" width="52.70" height="137.30" fill="none" stroke="#000" stroke-width="1.15"/>
<rect x="480.85" y="1133.40" width="52.70" height="26.70" fill="#ffa84f"/>
<clipPath id="c158"><rect x="480.85" y="1133.40" width="52.70" height="26.70"/></clipPath>
<g clip-path="url(#c158)" fill="#fff"><circle cx="482.3" cy="1130.8" r="2.55"/><circle cx="482.3" cy="1138.6" r="2.55"/><circle cx="482.3" cy="1146.4" r="2.55"/><circle cx="482.3" cy="1154.3" r="2.55"/><circle cx="482.3" cy="1162.1" r="2.55"/><circle cx="490.2" cy="1130.8" r="2.55"/><circle cx="490.2" cy="1138.6" r="2.55"/><circle cx="490.2" cy="1146.4" r="2.55"/><circle cx="490.2" cy="1154.3" r="2.55"/><circle cx="490.2" cy="1162.1" r="2.55"/><circle cx="498.2" cy="1130.8" r="2.55"/><circle cx="498.2" cy="1138.6" r="2.55"/><circle cx="498.2" cy="1146.4" r="2.55"/><circle cx="498.2" cy="1154.3" r="2.55"/><circle cx="498.2" cy="1162.1" r="2.55"/><circle cx="506.2" cy="1130.8" r="2.55"/><circle cx="506.2" cy="1138.6" r="2.55"/><circle cx="506.2" cy="1146.4" r="2.55"/><circle cx="506.2" cy="1154.3" r="2.55"/><circle cx="506.2" cy="1162.1" r="2.55"/><circle cx="514.2" cy="1130.8" r="2.55"/><circle cx="514.2" cy="1138.6" r="2.55"/><circle cx="514.2" cy="1146.4" r="2.55"/><circle cx="514.2" cy="1154.3" r="2.55"/><circle cx="514.2" cy="1162.1" r="2.55"/><circle cx="522.1" cy="1130.8" r="2.55"/><circle cx="522.1" cy="1138.6" r="2.55"/><circle cx="522.1" cy="1146.4" r="2.55"/><circle cx="522.1" cy="1154.3" r="2.55"/><circle cx="522.1" cy="1162.1" r="2.55"/><circle cx="530.1" cy="1130.8" r="2.55"/><circle cx="530.1" cy="1138.6" r="2.55"/><circle cx="530.1" cy="1146.4" r="2.55"/><circle cx="530.1" cy="1154.3" r="2.55"/><circle cx="530.1" cy="1162.1" r="2.55"/></g>
<rect x="480.85" y="1133.40" width="52.70" height="26.70" fill="none" stroke="#000" stroke-width="1.15"/>
<rect x="480.85" y="1160.10" width="52.70" height="76.40" fill="#00b9b9"/>
<path d="M480.85,1163.5 H533.55 M480.85,1171.5 H533.55 M480.85,1179.5 H533.55 M480.85,1187.5 H533.55 M480.85,1195.5 H533.55 M480.85,1202.5 H533.55 M480.85,1210.5 H533.55 M480.85,1218.5 H533.55 M480.85,1226.5 H533.55 M480.85,1234.5 H533.55" fill="none" stroke="#fff" stroke-width="1.4"/>
<rect x="480.85" y="1160.10" width="52.70" height="76.40" fill="none" stroke="#000" stroke-width="1.15"/>
<rect x="480.85" y="1236.50" width="52.70" height="4.00" fill="#14468a"/>
<path d="M482.5,1237.30 V1240.20 M490.5,1237.30 V1240.20 M498.5,1237.30 V1240.20 M505.5,1237.30 V1240.20 M513.5,1237.30 V1240.20 M521.5,1237.30 V1240.20 M529.5,1237.30 V1240.20" fill="none" stroke="#fff" stroke-width="1.7"/>
<rect x="480.85" y="1236.50" width="52.70" height="4.00" fill="none" stroke="#000" stroke-width="1.15"/>
<rect x="546.85" y="906.10" width="52.70" height="133.70" fill="#0000ff"/>
<path d="M546.85,909.75 L550.50,906.10 M546.85,917.65 L558.40,906.10 M546.85,925.55 L566.30,906.10 M546.85,933.45 L574.20,906.10 M546.85,941.35 L582.10,906.10 M546.85,949.25 L590.00,906.10 M546.85,957.15 L597.90,906.10 M546.85,965.05 L599.55,912.35 M546.85,972.95 L599.55,920.25 M546.85,980.85 L599.55,928.15 M546.85,988.75 L599.55,936.05 M546.85,996.65 L599.55,943.95 M546.85,1004.55 L599.55,951.85 M546.85,1012.45 L599.55,959.75 M546.85,1020.35 L599.55,967.65 M546.85,1028.25 L599.55,975.55 M546.85,1036.15 L599.55,983.45 M551.10,1039.80 L599.55,991.35 M559.00,1039.80 L599.55,999.25 M566.90,1039.80 L599.55,1007.15 M574.80,1039.80 L599.55,1015.05 M582.70,1039.80 L599.55,1022.95 M590.60,1039.80 L599.55,1030.85 M598.50,1039.80 L599.55,1038.75" fill="none" stroke="#dedeff" stroke-width="1.3"/>
<rect x="546.85" y="906.10" width="52.70" height="133.70" fill="none" stroke="#000" stroke-width="1.15"/>
<rect x="546.85" y="1039.80" width="52.70" height="111.90" fill="#007800"/>
<path d="M550.5,1039.80 V1151.70 M558.5,1039.80 V1151.70 M565.5,1039.80 V1151.70 M573.5,1039.80 V1151.70 M581.5,1039.80 V1151.70 M589.5,1039.80 V1151.70 M596.5,1039.80 V1151.70" fill="none" stroke="#fff" stroke-width="1.2"/>
<rect x="546.85" y="1039.80" width="52.70" height="111.90" fill="none" stroke="#000" stroke-width="1.15"/>
<rect x="546.85" y="1151.70" width="52.70" height="21.50" fill="#ffa84f"/>
<clipPath id="c174"><rect x="546.85" y="1151.70" width="52.70" height="21.50"/></clipPath>
<g clip-path="url(#c174)" fill="#fff"><circle cx="546.0" cy="1154.3" r="2.55"/><circle cx="546.0" cy="1162.1" r="2.55"/><circle cx="546.0" cy="1170.0" r="2.55"/><circle cx="554.0" cy="1154.3" r="2.55"/><circle cx="554.0" cy="1162.1" r="2.55"/><circle cx="554.0" cy="1170.0" r="2.55"/><circle cx="562.0" cy="1154.3" r="2.55"/><circle cx="562.0" cy="1162.1" r="2.55"/><circle cx="562.0" cy="1170.0" r="2.55"/><circle cx="570.0" cy="1154.3" r="2.55"/><circle cx="570.0" cy="1162.1" r="2.55"/><circle cx="570.0" cy="1170.0" r="2.55"/><circle cx="577.9" cy="1154.3" r="2.55"/><circle cx="577.9" cy="1162.1" r="2.55"/><circle cx="577.9" cy="1170.0" r="2.55"/><circle cx="585.9" cy="1154.3" r="2.55"/><circle cx="585.9" cy="1162.1" r="2.55"/><circle cx="585.9" cy="1170.0" r="2.55"/><circle cx="593.9" cy="1154.3" r="2.55"/><circle cx="593.9" cy="1162.1" r="2.55"/><circle cx="593.9" cy="1170.0" r="2.55"/><circle cx="601.8" cy="1154.3" r="2.55"/><circle cx="601.8" cy="1162.1" r="2.55"/><circle cx="601.8" cy="1170.0" r="2.55"/></g>
<rect x="546.85" y="1151.70" width="52.70" height="21.50" fill="none" stroke="#000" stroke-width="1.15"/>
<rect x="546.85" y="1173.20" width="52.70" height="63.30" fill="#00b9b9"/>
<path d="M546.85,1179.5 H599.55 M546.85,1187.5 H599.55 M546.85,1195.5 H599.55 M546.85,1202.5 H599.55 M546.85,1210.5 H599.55 M546.85,1218.5 H599.55 M546.85,1226.5 H599.55 M546.85,1234.5 H599.55" fill="none" stroke="#fff" stroke-width="1.4"/>
<rect x="546.85" y="1173.20" width="52.70" height="63.30" fill="none" stroke="#000" stroke-width="1.15"/>
<rect x="546.85" y="1236.50" width="52.70" height="4.00" fill="#14468a"/>
<path d="M548.5,1237.30 V1240.20 M556.5,1237.30 V1240.20 M564.5,1237.30 V1240.20 M571.5,1237.30 V1240.20 M579.5,1237.30 V1240.20 M587.5,1237.30 V1240.20 M595.5,1237.30 V1240.20" fill="none" stroke="#fff" stroke-width="1.7"/>
<rect x="546.85" y="1236.50" width="52.70" height="4.00" fill="none" stroke="#000" stroke-width="1.15"/>
<rect x="678.85" y="919.00" width="52.70" height="99.80" fill="#0000ff"/>
<path d="M678.85,919.95 L679.80,919.00 M678.85,927.85 L687.70,919.00 M678.85,935.75 L695.60,919.00 M678.85,943.65 L703.50,919.00 M678.85,951.55 L711.40,919.00 M678.85,959.45 L719.30,919.00 M678.85,967.35 L727.20,919.00 M678.85,975.25 L731.55,922.55 M678.85,983.15 L731.55,930.45 M678.85,991.05 L731.55,938.35 M678.85,998.95 L731.55,946.25 M678.85,1006.85 L731.55,954.15 M678.85,1014.75 L731.55,962.05 M682.70,1018.80 L731.55,969.95 M690.60,1018.80 L731.55,977.85 M698.50,1018.80 L731.55,985.75 M706.40,1018.80 L731.55,993.65 M714.30,1018.80 L731.55,1001.55 M722.20,1018.80 L731.55,1009.45 M730.10,1018.80 L731.55,1017.35" fill="none" stroke="#dedeff" stroke-width="1.3"/>
<rect x="678.85" y="919.00" width="52.70" height="99.80" fill="none" stroke="#000" stroke-width="1.15"/>
<rect x="678.85" y="1018.80" width="52.70" height="125.20" fill="#007800"/>
<path d="M682.5,1018.80 V1144.00 M690.5,1018.80 V1144.00 M697.5,1018.80 V1144.00 M705.5,1018.80 V1144.00 M713.5,1018.80 V1144.00 M721.5,1018.80 V1144.00 M728.5,1018.80 V1144.00" fill="none" stroke="#fff" stroke-width="1.2"/>
<rect x="678.85" y="1018.80" width="52.70" height="125.20" fill="none" stroke="#000" stroke-width="1.15"/>
<rect x="678.85" y="1144.00" width="52.70" height="22.60" fill="#ffa84f"/>
<clipPath id="c190"><rect x="678.85" y="1144.00" width="52.70" height="22.60"/></clipPath>
<g clip-path="url(#c190)" fill="#fff"><circle cx="681.5" cy="1146.5" r="2.55"/><circle cx="681.5" cy="1154.3" r="2.55"/><circle cx="681.5" cy="1162.1" r="2.55"/><circle cx="689.5" cy="1146.5" r="2.55"/><circle cx="689.5" cy="1154.3" r="2.55"/><circle cx="689.5" cy="1162.1" r="2.55"/><circle cx="697.5" cy="1146.5" r="2.55"/><circle cx="697.5" cy="1154.3" r="2.55"/><circle cx="697.5" cy="1162.1" r="2.55"/><circle cx="705.4" cy="1146.5" r="2.55"/><circle cx="705.4" cy="1154.3" r="2.55"/><circle cx="705.4" cy="1162.1" r="2.55"/><circle cx="713.4" cy="1146.5" r="2.55"/><circle cx="713.4" cy="1154.3" r="2.55"/><circle cx="713.4" cy="1162.1" r="2.55"/><circle cx="721.4" cy="1146.5" r="2.55"/><circle cx="721.4" cy="1154.3" r="2.55"/><circle cx="721.4" cy="1162.1" r="2.55"/><circle cx="729.4" cy="1146.5" r="2.55"/><circle cx="729.4" cy="1154.3" r="2.55"/><circle cx="729.4" cy="1162.1" r="2.55"/></g>
<rect x="678.85" y="1144.00" width="52.70" height="22.60" fill="none" stroke="#000" stroke-width="1.15"/>
<rect x="678.85" y="1166.60" width="52.70" height="69.70" fill="#00b9b9"/>
<path d="M678.85,1171.5 H731.55 M678.85,1179.5 H731.55 M678.85,1187.5 H731.55 M678.85,1195.5 H731.55 M678.85,1202.5 H731.55 M678.85,1210.5 H731.55 M678.85,1218.5 H731.55 M678.85,1226.5 H731.55 M678.85,1234.5 H731.55" fill="none" stroke="#fff" stroke-width="1.4"/>
<rect x="678.85" y="1166.60" width="52.70" height="69.70" fill="none" stroke="#000" stroke-width="1.15"/>
<rect x="678.85" y="1236.30" width="52.70" height="4.20" fill="#14468a"/>
<path d="M680.5,1237.10 V1240.20 M688.5,1237.10 V1240.20 M696.5,1237.10 V1240.20 M703.5,1237.10 V1240.20 M711.5,1237.10 V1240.20 M719.5,1237.10 V1240.20 M727.5,1237.10 V1240.20" fill="none" stroke="#fff" stroke-width="1.7"/>
<rect x="678.85" y="1236.30" width="52.70" height="4.20" fill="none" stroke="#000" stroke-width="1.15"/>
<rect x="744.85" y="994.70" width="52.70" height="5.30" fill="#0000ff"/>
<path d="M744.85,996.15 L746.30,994.70 M748.90,1000.00 L754.20,994.70 M756.80,1000.00 L762.10,994.70 M764.70,1000.00 L770.00,994.70 M772.60,1000.00 L777.90,994.70 M780.50,1000.00 L785.80,994.70 M788.40,1000.00 L793.70,994.70 M796.30,1000.00 L797.55,998.75" fill="none" stroke="#dedeff" stroke-width="1.3"/>
<rect x="744.85" y="994.70" width="52.70" height="5.30" fill="none" stroke="#000" stroke-width="1.15"/>
<rect x="744.85" y="1000.00" width="52.70" height="137.50" fill="#007800"/>
<path d="M748.5,1000.00 V1137.50 M756.5,1000.00 V1137.50 M763.5,1000.00 V1137.50 M771.5,1000.00 V1137.50 M779.5,1000.00 V1137.50 M787.5,1000.00 V1137.50 M794.5,1000.00 V1137.50" fill="none" stroke="#fff" stroke-width="1.2"/>
<rect x="744.85" y="1000.00" width="52.70" height="137.50" fill="none" stroke="#000" stroke-width="1.15"/>
<rect x="744.85" y="1137.50" width="52.70" height="25.00" fill="#ffa84f"/>
<clipPath id="c206"><rect x="744.85" y="1137.50" width="52.70" height="25.00"/></clipPath>
<g clip-path="url(#c206)" fill="#fff"><circle cx="745.3" cy="1138.6" r="2.55"/><circle cx="745.3" cy="1146.4" r="2.55"/><circle cx="745.3" cy="1154.3" r="2.55"/><circle cx="745.3" cy="1162.1" r="2.55"/><circle cx="753.3" cy="1138.6" r="2.55"/><circle cx="753.3" cy="1146.4" r="2.55"/><circle cx="753.3" cy="1154.3" r="2.55"/><circle cx="753.3" cy="1162.1" r="2.55"/><circle cx="761.2" cy="1138.6" r="2.55"/><circle cx="761.2" cy="1146.4" r="2.55"/><circle cx="761.2" cy="1154.3" r="2.55"/><circle cx="761.2" cy="1162.1" r="2.55"/><circle cx="769.2" cy="1138.6" r="2.55"/><circle cx="769.2" cy="1146.4" r="2.55"/><circle cx="769.2" cy="1154.3" r="2.55"/><circle cx="769.2" cy="1162.1" r="2.55"/><circle cx="777.2" cy="1138.6" r="2.55"/><circle cx="777.2" cy="1146.4" r="2.55"/><circle cx="777.2" cy="1154.3" r="2.55"/><circle cx="777.2" cy="1162.1" r="2.55"/><circle cx="785.1" cy="1138.6" r="2.55"/><circle cx="785.1" cy="1146.4" r="2.55"/><circle cx="785.1" cy="1154.3" r="2.55"/><circle cx="785.1" cy="1162.1" r="2.55"/><circle cx="793.1" cy="1138.6" r="2.55"/><circle cx="793.1" cy="1146.4" r="2.55"/><circle cx="793.1" cy="1154.3" r="2.55"/><circle cx="793.1" cy="1162.1" r="2.55"/></g>
<rect x="744.85" y="1137.50" width="52.70" height="25.00" fill="none" stroke="#000" stroke-width="1.15"/>
<rect x="744.85" y="1162.50" width="52.70" height="78.00" fill="#00b9b9"/>
<path d="M744.85,1171.5 H797.55 M744.85,1179.5 H797.55 M744.85,1187.5 H797.55 M744.85,1195.5 H797.55 M744.85,1202.5 H797.55 M744.85,1210.5 H797.55 M744.85,1218.5 H797.55 M744.85,1226.5 H797.55 M744.85,1234.5 H797.55" fill="none" stroke="#fff" stroke-width="1.4"/>
<rect x="744.85" y="1162.50" width="52.70" height="78.00" fill="none" stroke="#000" stroke-width="1.15"/>
<rect x="810.85" y="994.70" width="52.70" height="2.90" fill="#ff0000"/>
<path d="M814.35,997.60 L817.25,994.70 M822.28,997.60 L825.18,994.70 M830.21,997.60 L833.11,994.70 M838.14,997.60 L841.04,994.70 M846.07,997.60 L848.97,994.70 M854.00,997.60 L856.90,994.70 M861.93,997.60 L863.55,995.98 M811.51,994.70 L814.41,997.60 M819.44,994.70 L822.34,997.60 M827.37,994.70 L830.27,997.60 M835.30,994.70 L838.20,997.60 M843.23,994.70 L846.13,997.60 M851.16,994.70 L854.06,997.60 M859.09,994.70 L861.99,997.60" fill="none" stroke="#fff" stroke-width="1.3"/>
<rect x="810.85" y="994.70" width="52.70" height="2.90" fill="none" stroke="#000" stroke-width="1.15"/>
<rect x="810.85" y="997.60" width="52.70" height="1.80" fill="#0000ff"/>
<path d="M812.70,999.40 L814.50,997.60 M820.60,999.40 L822.40,997.60 M828.50,999.40 L830.30,997.60 M836.40,999.40 L838.20,997.60 M844.30,999.40 L846.10,997.60 M852.20,999.40 L854.00,997.60 M860.10,999.40 L861.90,997.60" fill="none" stroke="#dedeff" stroke-width="1.3"/>
<rect x="810.85" y="997.60" width="52.70" height="1.80" fill="none" stroke="#000" stroke-width="1.15"/>
<rect x="810.85" y="999.40" width="52.70" height="138.10" fill="#007800"/>
<path d="M814.5,999.40 V1137.50 M822.5,999.40 V1137.50 M829.5,999.40 V1137.50 M837.5,999.40 V1137.50 M845.5,999.40 V1137.50 M853.5,999.40 V1137.50 M860.5,999.40 V1137.50" fill="none" stroke="#fff" stroke-width="1.2"/>
<rect x="810.85" y="999.40" width="52.70" height="138.10" fill="none" stroke="#000" stroke-width="1.15"/>
<rect x="810.85" y="1137.50" width="52.70" height="25.00" fill="#ffa84f"/>
<clipPath id="c222"><rect x="810.85" y="1137.50" width="52.70" height="25.00"/></clipPath>
<g clip-path="url(#c222)" fill="#fff"><circle cx="809.0" cy="1138.6" r="2.55"/><circle cx="809.0" cy="1146.4" r="2.55"/><circle cx="809.0" cy="1154.3" r="2.55"/><circle cx="809.0" cy="1162.1" r="2.55"/><circle cx="817.0" cy="1138.6" r="2.55"/><circle cx="817.0" cy="1146.4" r="2.55"/><circle cx="817.0" cy="1154.3" r="2.55"/><circle cx="817.0" cy="1162.1" r="2.55"/><circle cx="825.0" cy="1138.6" r="2.55"/><circle cx="825.0" cy="1146.4" r="2.55"/><circle cx="825.0" cy="1154.3" r="2.55"/><circle cx="825.0" cy="1162.1" r="2.55"/><circle cx="833.0" cy="1138.6" r="2.55"/><circle cx="833.0" cy="1146.4" r="2.55"/><circle cx="833.0" cy="1154.3" r="2.55"/><circle cx="833.0" cy="1162.1" r="2.55"/><circle cx="840.9" cy="1138.6" r="2.55"/><circle cx="840.9" cy="1146.4" r="2.55"/><circle cx="840.9" cy="1154.3" r="2.55"/><circle cx="840.9" cy="1162.1" r="2.55"/><circle cx="848.9" cy="1138.6" r="2.55"/><circle cx="848.9" cy="1146.4" r="2.55"/><circle cx="848.9" cy="1154.3" r="2.55"/><circle cx="848.9" cy="1162.1" r="2.55"/><circle cx="856.9" cy="1138.6" r="2.55"/><circle cx="856.9" cy="1146.4" r="2.55"/><circle cx="856.9" cy="1154.3" r="2.55"/><circle cx="856.9" cy="1162.1" r="2.55"/><circle cx="864.8" cy="1138.6" r="2.55"/><circle cx="864.8" cy="1146.4" r="2.55"/><circle cx="864.8" cy="1154.3" r="2.55"/><circle cx="864.8" cy="1162.1" r="2.55"/></g>
<rect x="810.85" y="1137.50" width="52.70" height="25.00" fill="none" stroke="#000" stroke-width="1.15"/>
<rect x="810.85" y="1162.50" width="52.70" height="78.00" fill="#00b9b9"/>
<path d="M810.85,1171.5 H863.55 M810.85,1179.5 H863.55 M810.85,1187.5 H863.55 M810.85,1195.5 H863.55 M810.85,1202.5 H863.55 M810.85,1210.5 H863.55 M810.85,1218.5 H863.55 M810.85,1226.5 H863.55 M810.85,1234.5 H863.55" fill="none" stroke="#fff" stroke-width="1.4"/>
<rect x="810.85" y="1162.50" width="52.70" height="78.00" fill="none" stroke="#000" stroke-width="1.15"/>
<rect x="876.85" y="1009.00" width="52.70" height="23.20" fill="#ff0000"/>
<path d="M876.85,1014.40 L882.25,1009.00 M876.85,1022.33 L890.18,1009.00 M876.85,1030.26 L898.11,1009.00 M882.84,1032.20 L906.04,1009.00 M890.77,1032.20 L913.97,1009.00 M898.70,1032.20 L921.90,1009.00 M906.63,1032.20 L929.55,1009.28 M914.56,1032.20 L929.55,1017.21 M922.49,1032.20 L929.55,1025.14 M876.85,1028.32 L880.73,1032.20 M876.85,1020.39 L888.66,1032.20 M876.85,1012.46 L896.59,1032.20 M881.32,1009.00 L904.52,1032.20 M889.25,1009.00 L912.45,1032.20 M897.18,1009.00 L920.38,1032.20 M905.11,1009.00 L928.31,1032.20 M913.04,1009.00 L929.55,1025.51 M920.97,1009.00 L929.55,1017.58 M928.90,1009.00 L929.55,1009.65" fill="none" stroke="#fff" stroke-width="1.3"/>
<rect x="876.85" y="1009.00" width="52.70" height="23.20" fill="none" stroke="#000" stroke-width="1.15"/>
<rect x="876.85" y="1032.20" width="52.70" height="118.80" fill="#007800"/>
<path d="M880.5,1032.20 V1151.00 M888.5,1032.20 V1151.00 M895.5,1032.20 V1151.00 M903.5,1032.20 V1151.00 M911.5,1032.20 V1151.00 M919.5,1032.20 V1151.00 M926.5,1032.20 V1151.00" fill="none" stroke="#fff" stroke-width="1.2"/>
<rect x="876.85" y="1032.20" width="52.70" height="118.80" fill="none" stroke="#000" stroke-width="1.15"/>
<rect x="876.85" y="1151.00" width="52.70" height="20.90" fill="#ffa84f"/>
<clipPath id="c235"><rect x="876.85" y="1151.00" width="52.70" height="20.90"/></clipPath>
<g clip-path="url(#c235)" fill="#fff"><circle cx="880.8" cy="1154.3" r="2.55"/><circle cx="880.8" cy="1162.1" r="2.55"/><circle cx="880.8" cy="1170.0" r="2.55"/><circle cx="888.8" cy="1154.3" r="2.55"/><circle cx="888.8" cy="1162.1" r="2.55"/><circle cx="888.8" cy="1170.0" r="2.55"/><circle cx="896.7" cy="1154.3" r="2.55"/><circle cx="896.7" cy="1162.1" r="2.55"/><circle cx="896.7" cy="1170.0" r="2.55"/><circle cx="904.7" cy="1154.3" r="2.55"/><circle cx="904.7" cy="1162.1" r="2.55"/><circle cx="904.7" cy="1170.0" r="2.55"/><circle cx="912.7" cy="1154.3" r="2.55"/><circle cx="912.7" cy="1162.1" r="2.55"/><circle cx="912.7" cy="1170.0" r="2.55"/><circle cx="920.6" cy="1154.3" r="2.55"/><circle cx="920.6" cy="1162.1" r="2.55"/><circle cx="920.6" cy="1170.0" r="2.55"/><circle cx="928.6" cy="1154.3" r="2.55"/><circle cx="928.6" cy="1162.1" r="2.55"/><circle cx="928.6" cy="1170.0" r="2.55"/></g>
<rect x="876.85" y="1151.00" width="52.70" height="20.90" fill="none" stroke="#000" stroke-width="1.15"/>
<rect x="876.85" y="1171.90" width="52.70" height="68.60" fill="#00b9b9"/>
<path d="M876.85,1179.5 H929.55 M876.85,1187.5 H929.55 M876.85,1195.5 H929.55 M876.85,1202.5 H929.55 M876.85,1210.5 H929.55 M876.85,1218.5 H929.55 M876.85,1226.5 H929.55 M876.85,1234.5 H929.55" fill="none" stroke="#fff" stroke-width="1.4"/>
<rect x="876.85" y="1171.90" width="52.70" height="68.60" fill="none" stroke="#000" stroke-width="1.15"/>
<rect x="111.5" y="674.5" width="859.0" height="566.0" fill="none" stroke="#000" stroke-width="1.35"/>
<text x="176.4" y="1265.3" font-size="23" text-anchor="middle">1</text>
<text x="242.4" y="1265.3" font-size="23" text-anchor="middle">2</text>
<text x="308.4" y="1265.3" font-size="23" text-anchor="middle">3</text>
<text x="374.4" y="1265.3" font-size="23" text-anchor="middle">4</text>
<text x="440.4" y="1265.3" font-size="23" text-anchor="middle">5</text>
<text x="506.4" y="1265.3" font-size="23" text-anchor="middle">6</text>
<text x="572.4" y="1265.3" font-size="23" text-anchor="middle">7</text>
<text x="638.4" y="1265.3" font-size="23" text-anchor="middle">8</text>
<text x="704.4" y="1265.3" font-size="23" text-anchor="middle">9</text>
<text x="770.4" y="1265.3" font-size="23" text-anchor="middle">10</text>
<text x="836.4" y="1265.3" font-size="23" text-anchor="middle">11</text>
<text x="902.4" y="1265.3" font-size="23" text-anchor="middle">12</text>
<text x="103.8" y="1247.9" font-size="23" text-anchor="end">0</text>
<text x="103.8" y="1167.0" font-size="23" text-anchor="end">1</text>
<text x="103.8" y="1086.2" font-size="23" text-anchor="end">2</text>
<text x="103.8" y="1005.3" font-size="23" text-anchor="end">3</text>
<text x="103.8" y="924.5" font-size="23" text-anchor="end">4</text>
<text x="103.8" y="843.6" font-size="23" text-anchor="end">5</text>
<text x="103.8" y="762.8" font-size="23" text-anchor="end">6</text>
<text x="103.8" y="681.9" font-size="23" text-anchor="end">7</text>
<text x="538" y="1297.1" font-size="30" text-anchor="middle" textLength="75" lengthAdjust="spacingAndGlyphs">Month</text>
<text transform="translate(78,958.5) rotate(-90)" font-size="30" text-anchor="middle" textLength="264" lengthAdjust="spacingAndGlyphs">Final energy (kWh/m<tspan font-size="18" dy="-12" dx="-6">2</tspan><tspan dy="12" dx="-1">)</tspan></text>
<rect x="120.2" y="683.5" width="182.9" height="193.1" fill="#fff" stroke="#000" stroke-width="1.1"/>
<rect x="130.50" y="690.20" width="53.70" height="23.20" fill="#ff0000"/>
<path d="M130.50,696.15 L136.45,690.20 M130.50,704.08 L144.38,690.20 M130.50,712.01 L152.31,690.20 M137.04,713.40 L160.24,690.20 M144.97,713.40 L168.17,690.20 M152.90,713.40 L176.10,690.20 M160.83,713.40 L184.03,690.20 M168.76,713.40 L184.20,697.96 M176.69,713.40 L184.20,705.89 M130.50,707.21 L136.69,713.40 M130.50,699.28 L144.62,713.40 M130.50,691.35 L152.55,713.40 M137.28,690.20 L160.48,713.40 M145.21,690.20 L168.41,713.40 M153.14,690.20 L176.34,713.40 M161.07,690.20 L184.20,713.33 M169.00,690.20 L184.20,705.40 M176.93,690.20 L184.20,697.47" fill="none" stroke="#fff" stroke-width="1.3"/>
<rect x="130.50" y="690.20" width="53.70" height="23.20" fill="none" stroke="#000" stroke-width="1.15"/>
<text x="189" y="709.8" font-size="23" textLength="73.6" lengthAdjust="spacingAndGlyphs">Heating</text>
<rect x="130.50" y="721.34" width="53.70" height="23.20" fill="#0000ff"/>
<path d="M130.50,728.20 L137.36,721.34 M130.50,736.10 L145.26,721.34 M130.50,744.00 L153.16,721.34 M137.86,744.54 L161.06,721.34 M145.76,744.54 L168.96,721.34 M153.66,744.54 L176.86,721.34 M161.56,744.54 L184.20,721.90 M169.46,744.54 L184.20,729.80 M177.36,744.54 L184.20,737.70" fill="none" stroke="#dedeff" stroke-width="1.3"/>
<rect x="130.50" y="721.34" width="53.70" height="23.20" fill="none" stroke="#000" stroke-width="1.15"/>
<text x="189" y="741.1" font-size="23" textLength="77" lengthAdjust="spacingAndGlyphs">Cooling</text>
<rect x="130.50" y="752.48" width="53.70" height="23.20" fill="#007800"/>
<path d="M133.5,752.48 V775.68 M141.5,752.48 V775.68 M149.5,752.48 V775.68 M157.5,752.48 V775.68 M166.5,752.48 V775.68 M174.5,752.48 V775.68 M182.5,752.48 V775.68" fill="none" stroke="#fff" stroke-width="1.2"/>
<rect x="130.50" y="752.48" width="53.70" height="23.20" fill="none" stroke="#000" stroke-width="1.15"/>
<text x="189" y="772.4" font-size="23" textLength="49.5" lengthAdjust="spacingAndGlyphs">Light</text>
<rect x="130.50" y="783.62" width="53.70" height="23.20" fill="#ffa84f"/>
<clipPath id="c278"><rect x="130.50" y="783.62" width="53.70" height="23.20"/></clipPath>
<g clip-path="url(#c278)" fill="#fff"><circle cx="133.0" cy="782.1" r="2.55"/><circle cx="133.0" cy="789.9" r="2.55"/><circle cx="133.0" cy="797.8" r="2.55"/><circle cx="133.0" cy="805.6" r="2.55"/><circle cx="141.0" cy="782.1" r="2.55"/><circle cx="141.0" cy="789.9" r="2.55"/><circle cx="141.0" cy="797.8" r="2.55"/><circle cx="141.0" cy="805.6" r="2.55"/><circle cx="148.9" cy="782.1" r="2.55"/><circle cx="148.9" cy="789.9" r="2.55"/><circle cx="148.9" cy="797.8" r="2.55"/><circle cx="148.9" cy="805.6" r="2.55"/><circle cx="156.9" cy="782.1" r="2.55"/><circle cx="156.9" cy="789.9" r="2.55"/><circle cx="156.9" cy="797.8" r="2.55"/><circle cx="156.9" cy="805.6" r="2.55"/><circle cx="164.9" cy="782.1" r="2.55"/><circle cx="164.9" cy="789.9" r="2.55"/><circle cx="164.9" cy="797.8" r="2.55"/><circle cx="164.9" cy="805.6" r="2.55"/><circle cx="172.8" cy="782.1" r="2.55"/><circle cx="172.8" cy="789.9" r="2.55"/><circle cx="172.8" cy="797.8" r="2.55"/><circle cx="172.8" cy="805.6" r="2.55"/><circle cx="180.8" cy="782.1" r="2.55"/><circle cx="180.8" cy="789.9" r="2.55"/><circle cx="180.8" cy="797.8" r="2.55"/><circle cx="180.8" cy="805.6" r="2.55"/></g>
<rect x="130.50" y="783.62" width="53.70" height="23.20" fill="none" stroke="#000" stroke-width="1.15"/>
<text x="189" y="803.7" font-size="23" textLength="104.5" lengthAdjust="spacingAndGlyphs">Equipment</text>
<rect x="130.50" y="814.76" width="53.70" height="23.20" fill="#00b9b9"/>
<path d="M130.50,822.5 H184.20 M130.50,830.5 H184.20" fill="none" stroke="#fff" stroke-width="1.4"/>
<rect x="130.50" y="814.76" width="53.70" height="23.20" fill="none" stroke="#000" stroke-width="1.15"/>
<text x="189" y="835.0" font-size="23" textLength="102.5" lengthAdjust="spacingAndGlyphs">Ventilation</text>
<rect x="130.50" y="845.90" width="53.70" height="23.20" fill="#14468a"/>
<path d="M133.5,845.90 V869.10 M141.5,845.90 V869.10 M149.5,845.90 V869.10 M157.5,845.90 V869.10 M165.5,845.90 V869.10 M173.5,845.90 V869.10 M181.5,845.90 V869.10 M130.50,852.5 H184.20 M130.50,860.5 H184.20" fill="none" stroke="#fff" stroke-width="1.5"/>
<rect x="130.50" y="845.90" width="53.70" height="23.20" fill="none" stroke="#000" stroke-width="1.15"/>
<text x="189" y="866.3" font-size="23" textLength="35.5" lengthAdjust="spacingAndGlyphs">Fan</text>
<text class="sans" x="963.2" y="661.6" font-size="40" text-anchor="middle" textLength="50.4" lengthAdjust="spacingAndGlyphs"><tspan dy="-0.8">(</tspan><tspan dy="0.8">b</tspan><tspan dy="-0.8">)</tspan></text>
</svg>
</body></html>
